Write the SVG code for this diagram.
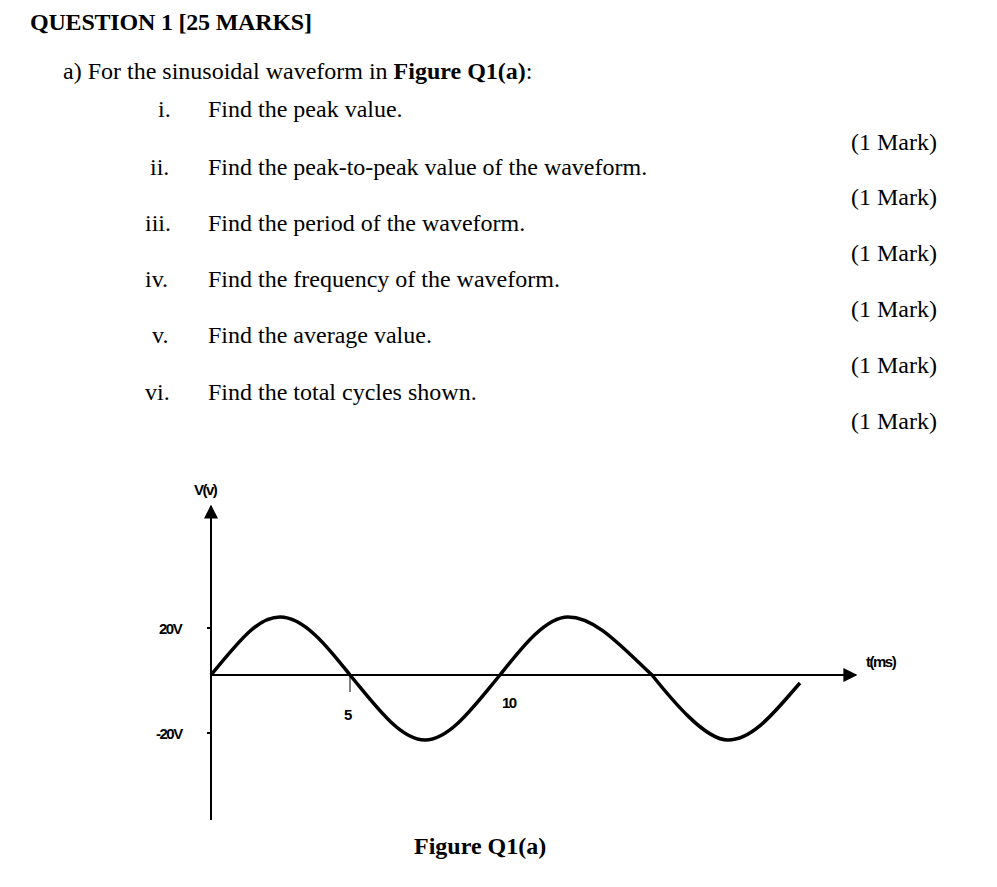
<svg xmlns="http://www.w3.org/2000/svg" width="997" height="887" viewBox="0 0 997 887">
<style>
.t{font-family:"Liberation Serif",serif;font-size:24px;fill:#000}
.b{font-weight:bold}
.g{font-family:"Liberation Sans",sans-serif;font-size:15px;font-weight:bold;fill:#000;letter-spacing:-1.5px}
.ax{stroke:#000;stroke-width:2;fill:none}
.w{stroke:#000;stroke-width:3.5;fill:none}
.k{stroke:#000;stroke-width:1;fill:none}
</style>
<defs><marker id="ar" viewBox="0 0 10 10" refX="9" refY="5" markerWidth="7" markerHeight="7" orient="auto"><path d="M0,0L10,5L0,10z" fill="#000"/></marker></defs>
<rect width="997" height="887" fill="#fff"/>
<g id="text">
<text class="t b" x="30" y="30" textLength="282">QUESTION 1 [25 MARKS]</text>
<text class="t" x="63" y="79">a)  For the sinusoidal waveform in <tspan class="b">Figure Q1(a)</tspan>:</text>
<text class="t" x="158" y="117">i.</text><text class="t" x="208" y="117">Find the peak value.</text>
<text class="t" x="851" y="150">(1 Mark)</text>
<text class="t" x="150" y="175">ii.</text><text class="t" x="208" y="175">Find the peak-to-peak value of the waveform.</text>
<text class="t" x="851" y="205">(1 Mark)</text>
<text class="t" x="145" y="231">iii.</text><text class="t" x="208" y="231">Find the period of the waveform.</text>
<text class="t" x="851" y="261">(1 Mark)</text>
<text class="t" x="145" y="287">iv.</text><text class="t" x="208" y="287">Find the frequency of the waveform.</text>
<text class="t" x="851" y="317">(1 Mark)</text>
<text class="t" x="152" y="343">v.</text><text class="t" x="208" y="343">Find the average value.</text>
<text class="t" x="851" y="373">(1 Mark)</text>
<text class="t" x="145" y="400">vi.</text><text class="t" x="208" y="400">Find the total cycles shown.</text>
<text class="t" x="851" y="429">(1 Mark)</text>
<text class="t b" x="414" y="854">Figure Q1(a)</text>
</g>
<g id="connectors">
<line class="ax" x1="211" y1="820" x2="211" y2="506" marker-end="url(#ar)"/>
<line class="ax" x1="211" y1="675" x2="856" y2="675" marker-end="url(#ar)"/>
<line class="ax" x1="207" y1="628" x2="211" y2="628"/>
<line class="ax" x1="207" y1="733" x2="211" y2="733"/>
<line class="k" x1="350" y1="675" x2="350" y2="692"/>
<path class="w" d="M211,675 C240,640 258,617 280,617 C305,617 330,650 350,675 C375,705 400,740 425,740 C450,740 475,705 500,675 C520,650 545,617 568,617 C595,617 620,645 652,675 C672,700 705,740 728,740 C755,740 780,705 800,683"/>
</g>
<g id="labels">
<text class="g" x="194" y="495">V(v)</text>
<text class="g" x="159" y="634">20V</text>
<text class="g" x="156" y="739">-20V</text>
<text class="g" x="344" y="720">5</text>
<text class="g" x="502" y="708">10</text>
<text class="g" x="866" y="667">t(ms)</text>
</g>
</svg>
